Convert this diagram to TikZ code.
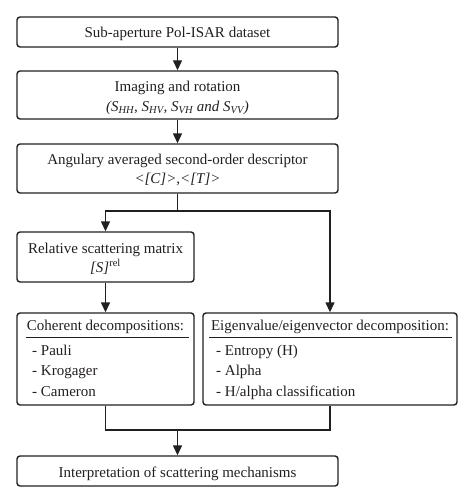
\documentclass[tikz,border=0pt]{standalone}
\usepackage{fontspec}
\setmainfont{Liberation Serif}
\usetikzlibrary{arrows.meta}
\definecolor{ink}{HTML}{231F20}
\begin{document}
\begin{tikzpicture}[x=1pt,y=-1pt,
  box/.style={draw=ink, line width=1.4pt, rounded corners=3pt, inner sep=0pt},
  arr/.style={draw=ink, -{Triangle[length=10pt,width=9pt]}, line width=1.4pt},
  ln/.style={draw=ink, line width=1.4pt},
  txt/.style={inner sep=0pt, text=ink, anchor=base, font=\fontsize{15}{20}\selectfont},
  item/.style={txt, anchor=base west}
]
\useasboundingbox (0,0) rectangle (474,503);
% boxes
\node[box, minimum width=321pt, minimum height=30pt] (b1) at (177.5,32) {};
\node[box, minimum width=321pt, minimum height=48pt] (b2) at (177.5,95) {};
\node[box, minimum width=321pt, minimum height=49pt] (b3) at (177.5,168.5) {};
\node[box, minimum width=177pt, minimum height=50pt] (b4) at (105.5,257) {};
\node[box, minimum width=177pt, minimum height=92pt] (b5) at (105.5,359) {};
\node[box, minimum width=254pt, minimum height=92pt] (b6) at (330,359) {};
\node[box, minimum width=321pt, minimum height=30pt] (b7) at (177.5,471) {};
% texts
\node[txt] (t1) at (177.5,37.5) {Sub-aperture Pol-ISAR dataset};
\node[txt] (t2a) at (177.5,91) {Imaging and rotation};
\node[txt] (t2b) at (177.5,111) {\textit{(S\textsubscript{HH}, S\textsubscript{HV}, S\textsubscript{VH} and S\textsubscript{VV})}};
\node[txt] (t3a) at (177.5,164) {Angulary averaged second-order descriptor};
\node[txt] (t3b) at (177.5,183) {\textit{<[C]>,<[T]>}};
\node[txt] (t4a) at (105.5,253) {Relative scattering matrix};
\node[txt] (t4b) at (105.5,272) {\textit{[S]}\textsuperscript{rel}};
\node[txt] (h5) at (105.5,330) {Coherent decompositions:};
\node[txt] (h6) at (330,330) {Eigenvalue/eigenvector decomposition:};
\node[item] (i51) at (32,355) {- Pauli};
\node[item] (i52) at (32,375.5) {- Krogager};
\node[item] (i53) at (32,396) {- Cameron};
\node[item] (i61) at (216,355) {- Entropy (H)};
\node[item] (i62) at (216,375.5) {- Alpha};
\node[item] (i63) at (216,396) {- H/alpha classification};
\node[txt] (t7) at (177.5,477) {Interpretation of scattering mechanisms};
% header rules
\draw[ln] (26,337.5) -- (189,337.5);
\draw[ln] (209,337.5) -- (452,337.5);
% connectors
\draw[arr] (b1.south) -- (b2.north);
\draw[arr] (b2.south) -- (b3.north);
\coordinate (j1) at (177.5,211);
\draw[ln] (b3.south) -- (j1);
\draw[arr] (j1) -| (b4.north);
\draw[arr] (j1) -| (b6.north);
\draw[arr] (b4.south) -- (b5.north);
\coordinate (j2) at (177.5,430);
\draw[ln] (b5.south) |- (j2);
\draw[ln] (b6.south) |- (j2);
\draw[arr] (j2) -- (b7.north);
\end{tikzpicture}
\end{document}
